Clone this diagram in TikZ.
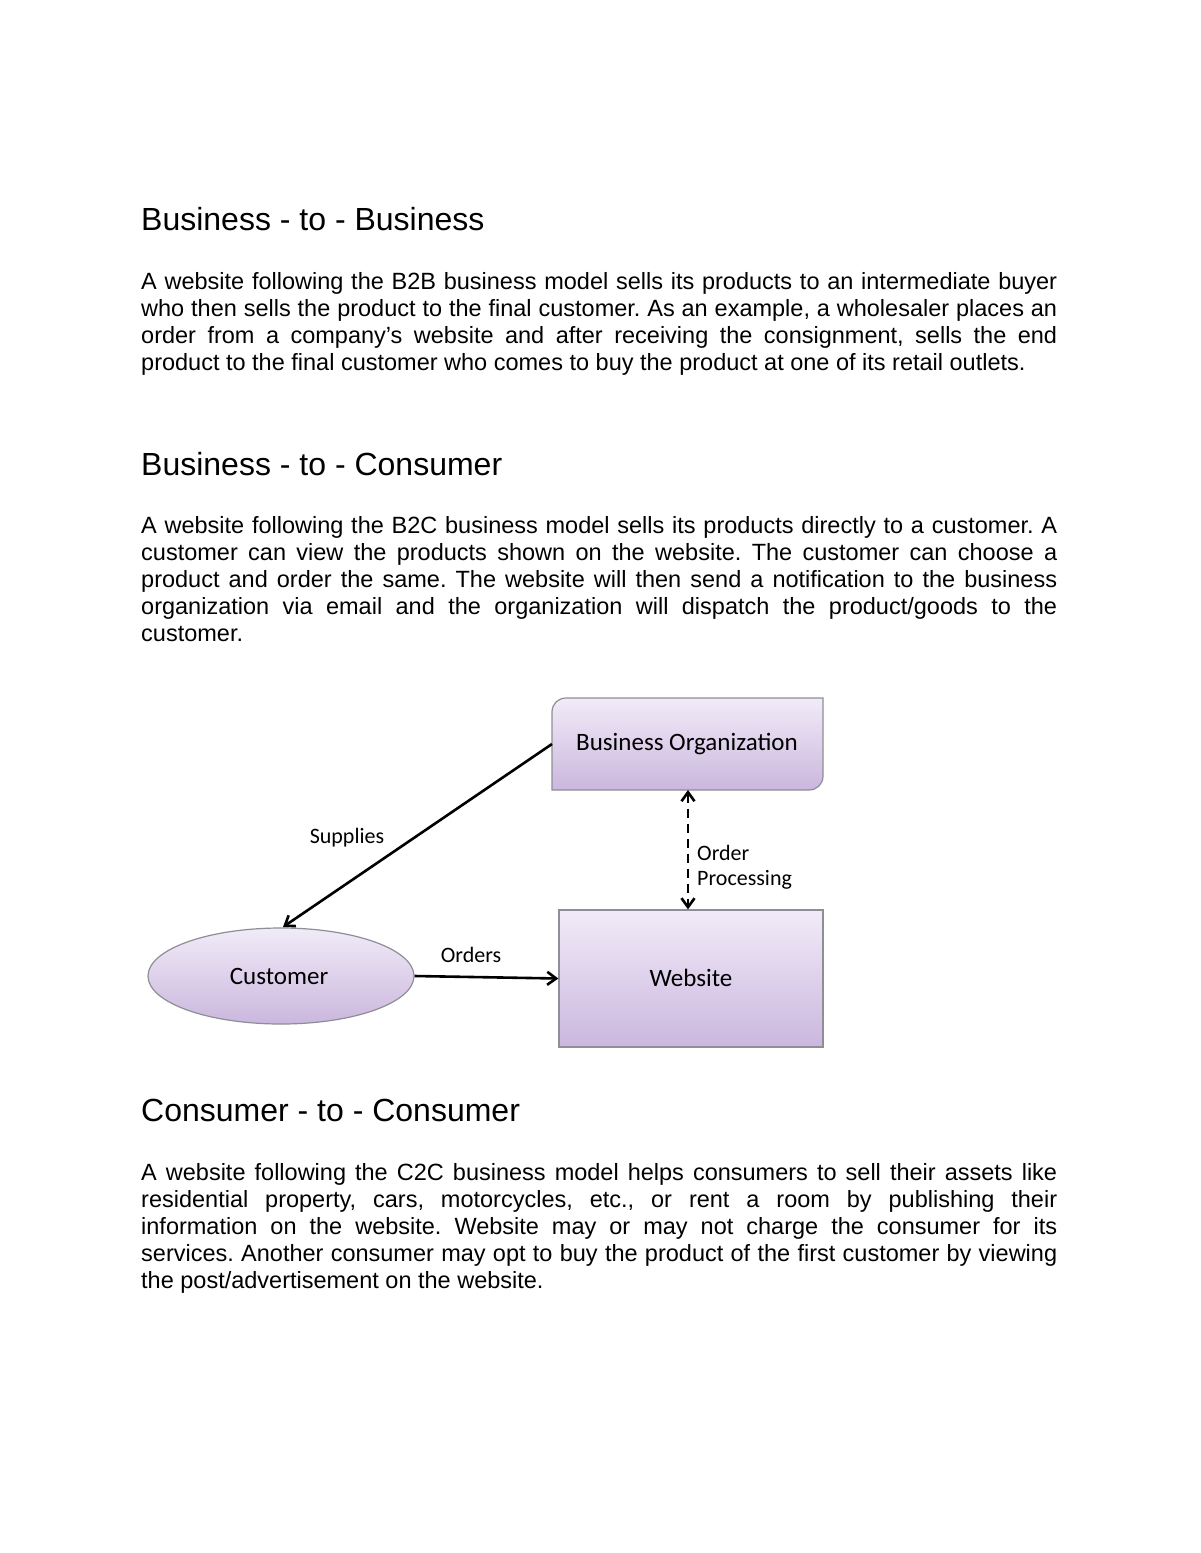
\documentclass[tikz,border=0pt]{standalone}
\usepackage{fontspec}
\setmainfont{Liberation Sans}
\newfontfamily\calfont{Carlito}
\usetikzlibrary{shapes.geometric,arrows.meta}
\definecolor{ltop}{HTML}{F1EBF8}
\definecolor{lbot}{HTML}{CBB7DE}
\definecolor{edge}{HTML}{8E8E96}
\tikzset{
  head/.style={anchor=base west,inner sep=0,font=\fontsize{32}{36}\selectfont},
  body/.style={anchor=base west,inner sep=0,font=\fontsize{23.5}{27}\selectfont},
  boxfill/.style={top color=ltop,bottom color=lbot,draw=edge,line width=1.2pt},
  lab/.style={font=\calfont\fontsize{22}{26}\selectfont,inner sep=0},
  boxlab/.style={font=\calfont\fontsize{25}{29}\selectfont,inner sep=0},
  conn/.style={line width=2.6pt,-{Straight Barb[length=9pt,width=13pt]}}
}
\newcommand{\jl}[1]{\makebox[916pt][s]{#1}}
\frenchspacing
\begin{document}
\begin{tikzpicture}[x=1pt,y=-1pt]
\useasboundingbox[fill=white] (0,0) rectangle (1200,1553);
\node[head] (h1) at (141,230) {Business - to - Business};
\node[body] (a1) at (141,289) {\jl{A website following the B2B business model sells its products to an intermediate buyer}};
\node[body] (a2) at (141,316) {\jl{who then sells the product to the final customer. As an example, a wholesaler places an}};
\node[body] (a3) at (141,343) {\jl{order from a company's website and after receiving the consignment, sells the end}};
\node[body] (a4) at (141,370) {product to the final customer who comes to buy the product at one of its retail outlets.};
\node[head] (h2) at (141,475) {Business - to - Consumer};
\node[body] (b1) at (141,533) {\jl{A website following the B2C business model sells its products directly to a customer. A}};
\node[body] (b2) at (141,560) {\jl{customer can view the products shown on the website. The customer can choose a}};
\node[body] (b3) at (141,587) {\jl{product and order the same. The website will then send a notification to the business}};
\node[body] (b4) at (141,614) {\jl{organization via email and the organization will dispatch the product/goods to the}};
\node[body] (b5) at (141,641) {customer.};
% diagram
\path[boxfill] (552,790) -- (552,712) .. controls (552,704) and (558,698) .. (566,698) -- (823,698) -- (823,776) .. controls (823,784) and (817,790) .. (809,790) -- cycle;
\node[boxlab] (bo) at (687,744) {Business Organization};
\coordinate (boL) at (552,744);
\coordinate (boB) at (688,790);
\node[boxfill,minimum width=264pt,minimum height=137pt,inner sep=0] (web) at (691,978.5) {};
\node[boxlab] at (691,978) {Website};
\node[ellipse,boxfill,minimum width=266pt,minimum height=96pt,inner sep=0] (cust) at (281,976) {};
\node[boxlab] at (279,976) {Customer};
\coordinate (custT) at (283,927);
\draw[conn] (boL) -- (custT);
\draw[conn] (cust.east) -- (web.west);
\draw[line width=2.6pt,dashed,dash pattern=on 9pt off 6pt,{Straight Barb[length=9pt,width=13pt]}-{Straight Barb[length=9pt,width=13pt]}] (boB) -- (web.north -| boB);
\node[lab] (sup) at (347,838) {Supplies};
\node[lab] (ord) at (471,955) {Orders};
\node[lab,anchor=west,align=left] (op) at (697,867) {Order\\[-1pt]Processing};
% C2C
\node[head] (h3) at (141,1121) {Consumer - to - Consumer};
\node[body] (c1) at (141,1180) {\jl{A website following the C2C business model helps consumers to sell their assets like}};
\node[body] (c2) at (141,1207) {\jl{residential property, cars, motorcycles, etc., or rent a room by publishing their}};
\node[body] (c3) at (141,1234) {\jl{information on the website. Website may or may not charge the consumer for its}};
\node[body] (c4) at (141,1261) {\jl{services. Another consumer may opt to buy the product of the first customer by viewing}};
\node[body] (c5) at (141,1288) {the post/advertisement on the website.};
\end{tikzpicture}
\end{document}
